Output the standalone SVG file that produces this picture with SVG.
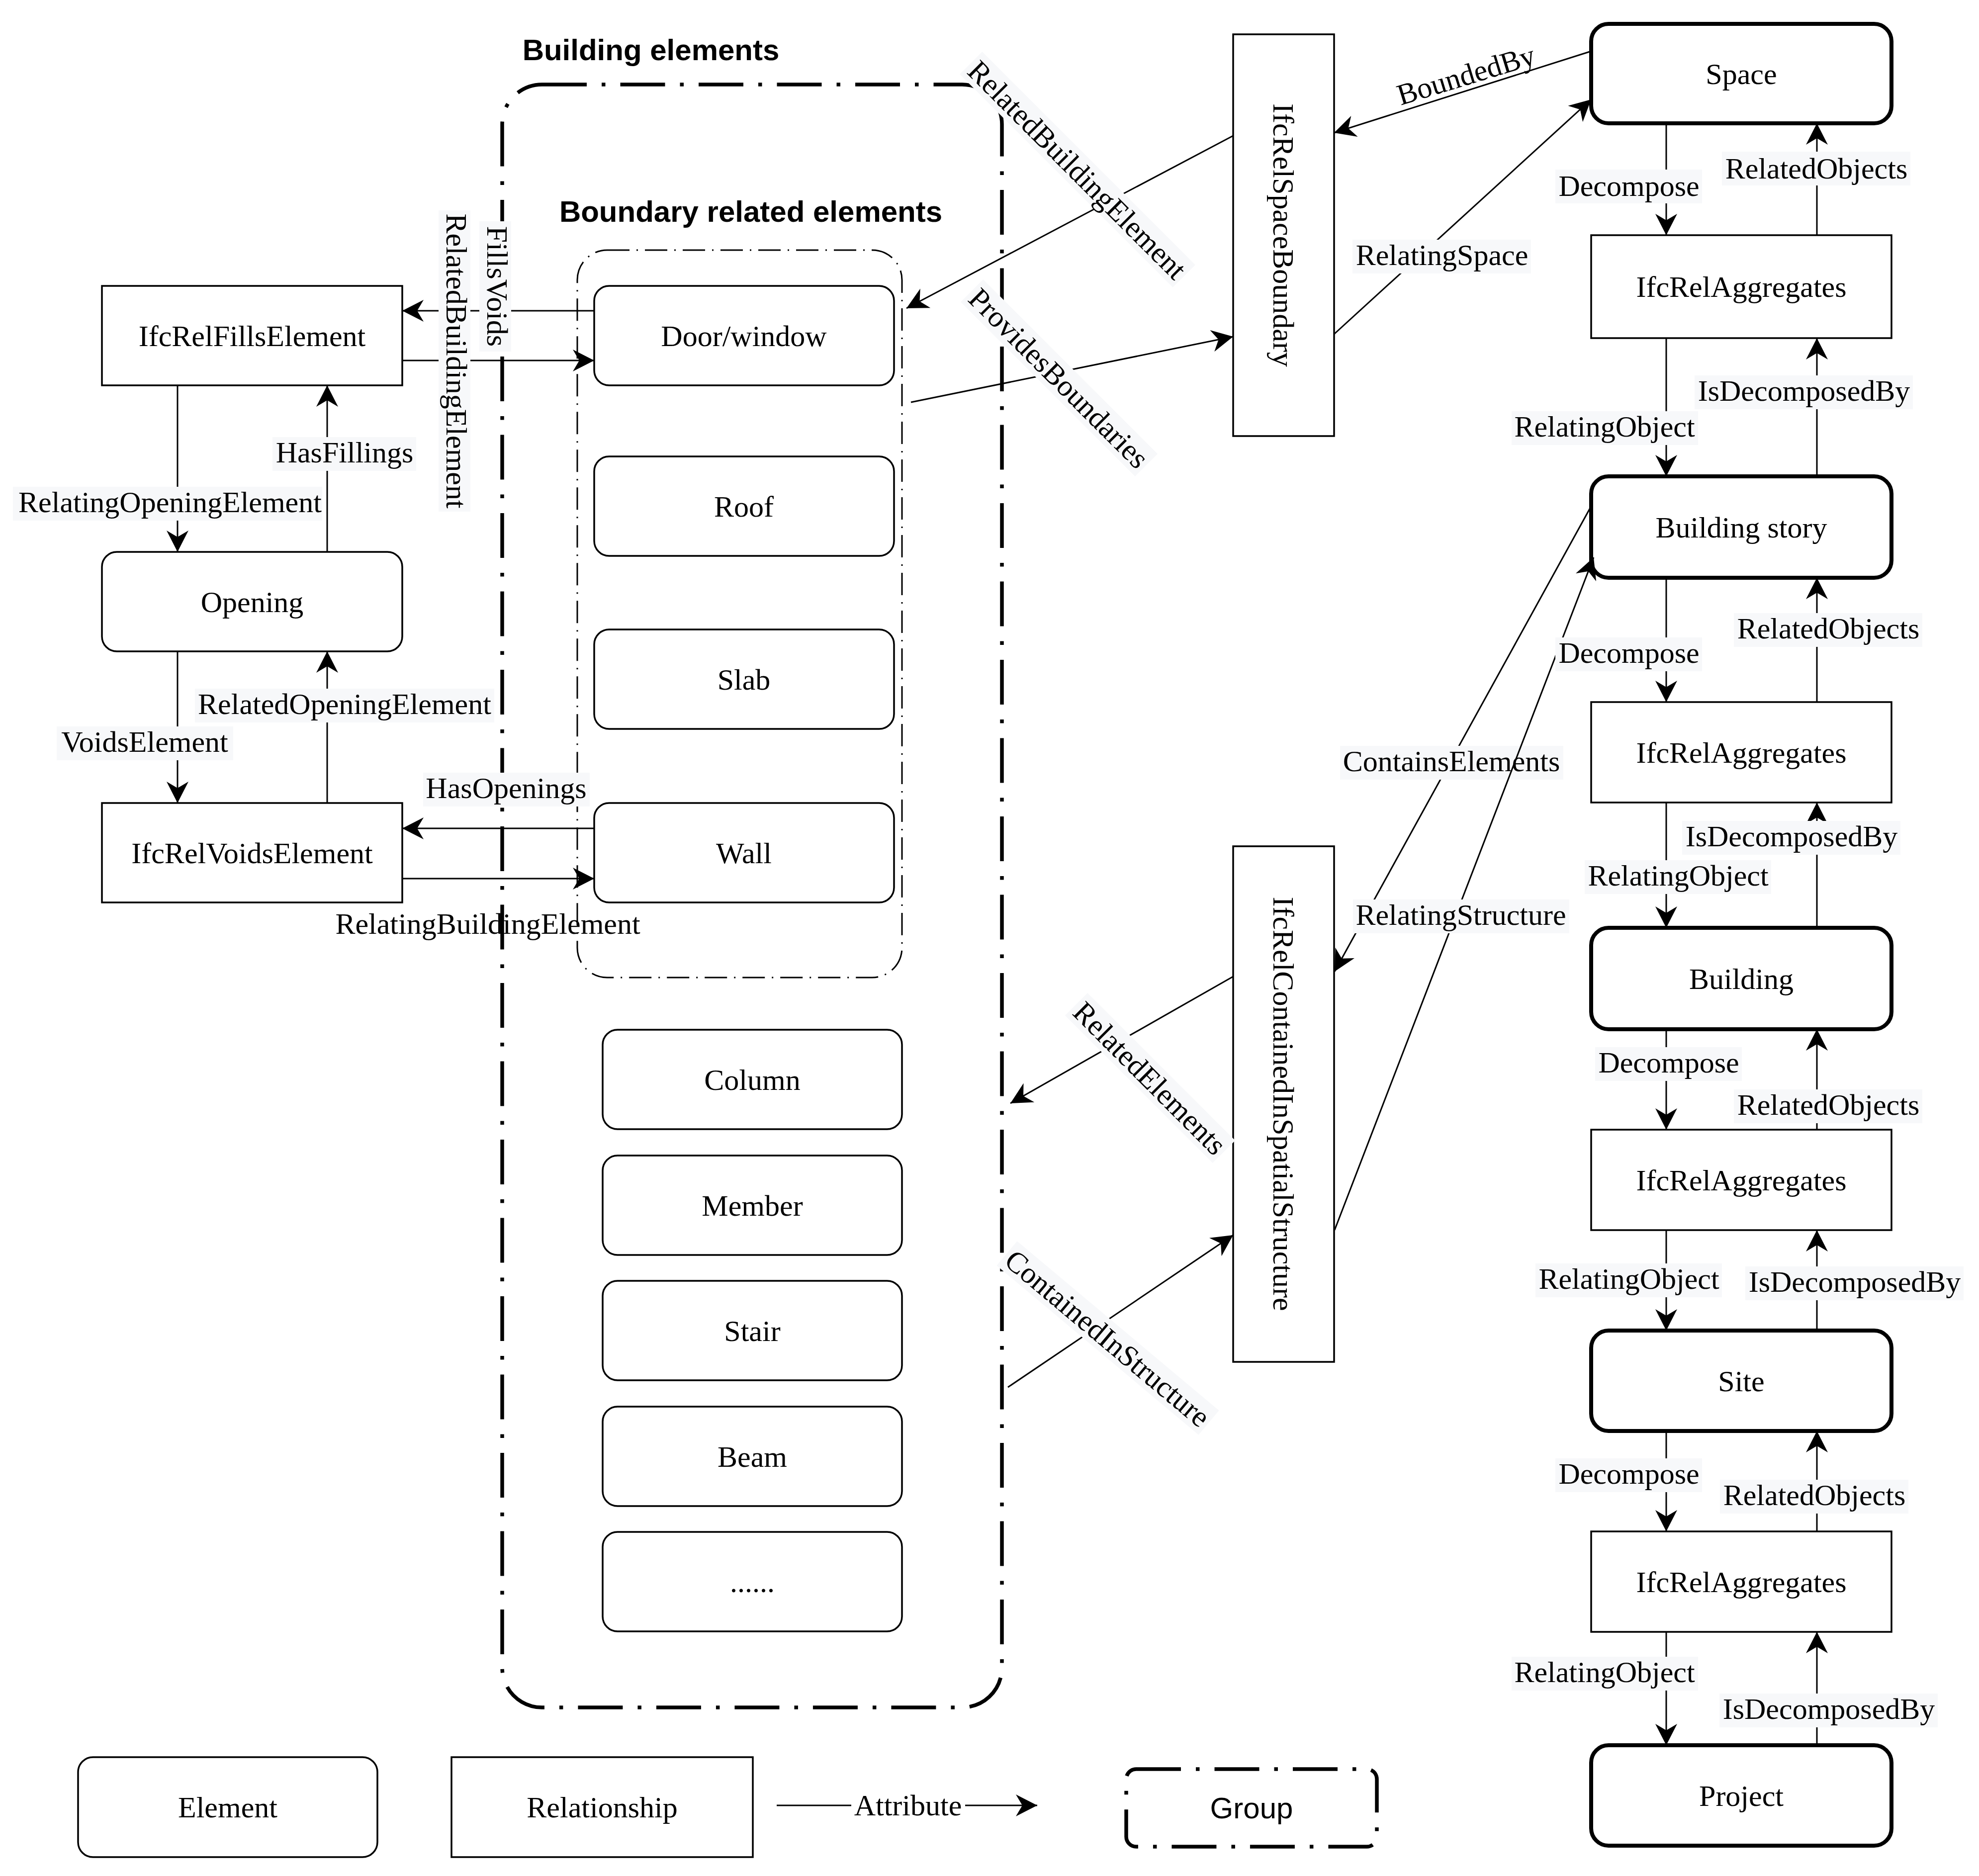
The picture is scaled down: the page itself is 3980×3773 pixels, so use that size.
<svg xmlns="http://www.w3.org/2000/svg" width="3980" height="3773" viewBox="0 0 3980 3773">
<defs>
<marker id="a" markerUnits="userSpaceOnUse" markerWidth="46" markerHeight="46" viewBox="0 0 46 46" refX="44" refY="23" orient="auto"><path d="M44,23 L1,1 L14,23 L1,45 Z" fill="#000"/></marker>
<style>
.n{fill:#fff;stroke:#000;stroke-width:3.5}
.b{fill:#fff;stroke:#000;stroke-width:8}
.t{font-family:"Liberation Serif","Times New Roman",serif;font-size:60px;text-anchor:middle;fill:#000}
.h{font-family:"Liberation Sans",Arial,sans-serif;font-size:60px;font-weight:bold;text-anchor:middle;fill:#000}
.g{font-family:"Liberation Sans",Arial,sans-serif;font-size:60px;text-anchor:middle;fill:#000}
.c{fill:none;stroke:#000;stroke-width:3;marker-end:url(#a)}
.lb{fill:#f7f8fa}
.wb{fill:#fff}
.og{fill:none;stroke:#000;stroke-width:7.5;stroke-dasharray:90 30 7.5 30}
.ig{fill:none;stroke:#000;stroke-width:3;stroke-dasharray:45 14 3 14}
</style>
</defs>
<rect width="3980" height="3773" fill="#fff"/>

<g id="group-building-elements">
<rect class="og" x="1010" y="170" width="1005" height="3264" rx="80"/>
<text class="h" x="1309" y="121">Building elements</text>
</g>
<g id="group-boundary-related">
<rect class="ig" x="1161" y="503" width="653" height="1463" rx="60"/>
<text class="h" x="1510" y="446">Boundary related elements</text>
</g>

<g id="n-fills"><rect class="n" x="205" y="575" width="604" height="200"/><text class="t" x="507" y="696">IfcRelFillsElement</text></g>
<g id="n-opening"><rect class="n" x="205" y="1110" width="604" height="200" rx="30"/><text class="t" x="507" y="1231">Opening</text></g>
<g id="n-voids"><rect class="n" x="205" y="1615" width="604" height="200"/><text class="t" x="507" y="1736">IfcRelVoidsElement</text></g>

<g id="n-door"><rect class="n" x="1195" y="575" width="603" height="200" rx="30"/><text class="t" x="1496" y="696">Door/window</text></g>
<g id="n-roof"><rect class="n" x="1195" y="918" width="603" height="200" rx="30"/><text class="t" x="1496" y="1039">Roof</text></g>
<g id="n-slab"><rect class="n" x="1195" y="1266" width="603" height="200" rx="30"/><text class="t" x="1496" y="1387">Slab</text></g>
<g id="n-wall"><rect class="n" x="1195" y="1615" width="603" height="200" rx="30"/><text class="t" x="1496" y="1736">Wall</text></g>

<g id="n-column"><rect class="n" x="1212" y="2071" width="602" height="200" rx="30"/><text class="t" x="1513" y="2192">Column</text></g>
<g id="n-member"><rect class="n" x="1212" y="2324" width="602" height="200" rx="30"/><text class="t" x="1513" y="2445">Member</text></g>
<g id="n-stair"><rect class="n" x="1212" y="2576" width="602" height="200" rx="30"/><text class="t" x="1513" y="2697">Stair</text></g>
<g id="n-beam"><rect class="n" x="1212" y="2829" width="602" height="200" rx="30"/><text class="t" x="1513" y="2950">Beam</text></g>
<g id="n-more"><rect class="n" x="1212" y="3081" width="602" height="200" rx="30"/><text class="t" x="1513" y="3202">......</text></g>

<g id="n-spaceboundary"><rect class="n" x="2480" y="69" width="203" height="808"/><text class="t" transform="translate(2582,473) rotate(90)" x="0" y="21">IfcRelSpaceBoundary</text></g>
<g id="n-contained"><rect class="n" x="2480" y="1702" width="203" height="1037"/><text class="t" transform="translate(2582,2220) rotate(90)" x="0" y="21">IfcRelContainedInSpatialStructure</text></g>

<g id="n-space"><rect class="b" x="3200" y="48" width="604" height="200" rx="35"/><text class="t" x="3502" y="169">Space</text></g>
<g id="n-agg1"><rect class="n" x="3200" y="473" width="604" height="207"/><text class="t" x="3502" y="597">IfcRelAggregates</text></g>
<g id="n-story"><rect class="b" x="3200" y="958" width="604" height="204" rx="35"/><text class="t" x="3502" y="1081">Building story</text></g>
<g id="n-agg2"><rect class="n" x="3200" y="1412" width="604" height="202"/><text class="t" x="3502" y="1534">IfcRelAggregates</text></g>
<g id="n-building"><rect class="b" x="3200" y="1866" width="604" height="204" rx="35"/><text class="t" x="3502" y="1989">Building</text></g>
<g id="n-agg3"><rect class="n" x="3200" y="2272" width="604" height="202"/><text class="t" x="3502" y="2394">IfcRelAggregates</text></g>
<g id="n-site"><rect class="b" x="3200" y="2676" width="604" height="202" rx="35"/><text class="t" x="3502" y="2798">Site</text></g>
<g id="n-agg4"><rect class="n" x="3200" y="3080" width="604" height="202"/><text class="t" x="3502" y="3202">IfcRelAggregates</text></g>
<g id="n-project"><rect class="b" x="3200" y="3510" width="604" height="202" rx="35"/><text class="t" x="3502" y="3632">Project</text></g>

<g id="legend">
<g id="legend-element"><rect class="n" x="157" y="3534" width="602" height="201" rx="30"/><text class="t" x="458" y="3655">Element</text></g>
<g id="legend-relationship"><rect class="n" x="908" y="3534" width="606" height="201"/><text class="t" x="1211" y="3655">Relationship</text></g>
<g id="legend-attribute"><line class="c" x1="1562" y1="3631" x2="2086" y2="3631"/><rect class="wb" x="1712" y="3599" width="229" height="66"/><text class="t" x="1826" y="3651">Attribute</text></g>
<g id="legend-group"><rect class="og" x="2265" y="3558" width="504" height="156" rx="20"/><text class="g" x="2517" y="3657">Group</text></g>
</g>

<g id="connectors">
<line class="c" x1="1195" y1="625" x2="809" y2="625"/>
<line class="c" x1="809" y1="725" x2="1195" y2="725"/>
<rect class="lb" transform="translate(980,576) rotate(90)" x="-131" y="-48" width="262" height="64"/>
<text class="t" transform="translate(980,576) rotate(90)" x="0" y="0">FillsVoids</text>
<rect class="lb" transform="translate(898,726) rotate(90)" x="-303" y="-48" width="606" height="64"/>
<text class="t" transform="translate(898,726) rotate(90)" x="0" y="0">RelatedBuildingElement</text>

<line class="c" x1="357" y1="775" x2="357" y2="1110"/>
<rect class="lb" x="26" y="979" width="622" height="68"/><text class="t" x="342" y="1030">RelatingOpeningElement</text>
<line class="c" x1="658" y1="1110" x2="658" y2="775"/>
<rect class="lb" x="548" y="879" width="289" height="68"/><text class="t" x="693" y="930">HasFillings</text>
<line class="c" x1="357" y1="1310" x2="357" y2="1615"/>
<rect class="lb" x="114" y="1461" width="355" height="68"/><text class="t" x="291" y="1512">VoidsElement</text>
<line class="c" x1="658" y1="1615" x2="658" y2="1310"/>
<rect class="lb" x="392" y="1385" width="602" height="68"/><text class="t" x="693" y="1436">RelatedOpeningElement</text>
<line class="c" x1="1195" y1="1666" x2="809" y2="1666"/>
<rect class="lb" x="851" y="1554" width="335" height="68"/><text class="t" x="1018" y="1605">HasOpenings</text>
<line class="c" x1="809" y1="1767" x2="1195" y2="1767"/>
<text class="t" x="981" y="1878">RelatingBuildingElement</text>

<line class="c" x1="3200" y1="103" x2="2683" y2="267"/>
<text class="t" transform="translate(2948,150) rotate(-17)" x="0" y="21">BoundedBy</text>
<line class="c" x1="2683" y1="672" x2="3200" y2="200"/>
<rect class="lb" x="2720" y="482" width="359" height="68"/><text class="t" x="2900" y="533">RelatingSpace</text>
<line class="c" x1="2480" y1="273" x2="1823" y2="620"/>
<rect class="lb" transform="translate(2167,341) rotate(45)" x="-303" y="-32" width="606" height="64"/>
<text class="t" transform="translate(2167,341) rotate(45)" x="0" y="21">RelatedBuildingElement</text>
<line class="c" x1="1832" y1="809" x2="2480" y2="677"/>
<rect class="lb" transform="translate(2130,760) rotate(45)" x="-248" y="-32" width="496" height="64"/>
<text class="t" transform="translate(2130,760) rotate(45)" x="0" y="21">ProvidesBoundaries</text>

<line class="c" x1="3200" y1="1018" x2="2684" y2="1954"/>
<rect class="lb" x="2695" y="1500" width="449" height="68"/><text class="t" x="2919" y="1551">ContainsElements</text>
<line class="c" x1="2684" y1="2474" x2="3205" y2="1121"/>
<rect class="lb" x="2721" y="1809" width="435" height="68"/><text class="t" x="2938" y="1860">RelatingStructure</text>
<line class="c" x1="2480" y1="1964" x2="2032" y2="2219"/>
<rect class="lb" transform="translate(2313,2168) rotate(45)" x="-210" y="-32" width="420" height="64"/>
<text class="t" transform="translate(2313,2168) rotate(45)" x="0" y="21">RelatedElements</text>
<line class="c" x1="2027" y1="2790" x2="2480" y2="2484"/>
<rect class="lb" transform="translate(2228,2691) rotate(40)" x="-265" y="-32" width="530" height="64"/>
<text class="t" transform="translate(2228,2691) rotate(40)" x="0" y="21">ContainedInStructure</text>

<line class="c" x1="3351" y1="248" x2="3351" y2="473"/>
<rect class="lb" x="3128" y="341" width="295" height="68"/><text class="t" x="3276" y="394">Decompose</text>
<line class="c" x1="3654" y1="473" x2="3654" y2="248"/>
<rect class="lb" x="3463" y="305" width="379" height="68"/><text class="t" x="3653" y="359">RelatedObjects</text>
<line class="c" x1="3351" y1="680" x2="3351" y2="958"/>
<rect class="lb" x="3040" y="827" width="375" height="68"/><text class="t" x="3227" y="878">RelatingObject</text>
<line class="c" x1="3654" y1="958" x2="3654" y2="680"/>
<rect class="lb" x="3408" y="755" width="439" height="68"/><text class="t" x="3628" y="806">IsDecomposedBy</text>

<line class="c" x1="3351" y1="1162" x2="3351" y2="1412"/>
<rect class="lb" x="3128" y="1282" width="295" height="68"/><text class="t" x="3276" y="1333">Decompose</text>
<line class="c" x1="3654" y1="1412" x2="3654" y2="1162"/>
<rect class="lb" x="3487" y="1233" width="379" height="68"/><text class="t" x="3677" y="1284">RelatedObjects</text>
<line class="c" x1="3351" y1="1614" x2="3351" y2="1866"/>
<rect class="lb" x="3187" y="1730" width="375" height="68"/><text class="t" x="3375" y="1781">RelatingObject</text>
<line class="c" x1="3654" y1="1866" x2="3654" y2="1614"/>
<rect class="lb" x="3383" y="1651" width="439" height="68"/><text class="t" x="3603" y="1702">IsDecomposedBy</text>

<line class="c" x1="3351" y1="2070" x2="3351" y2="2272"/>
<rect class="lb" x="3208" y="2106" width="295" height="68"/><text class="t" x="3356" y="2157">Decompose</text>
<line class="c" x1="3654" y1="2272" x2="3654" y2="2070"/>
<rect class="lb" x="3487" y="2191" width="379" height="68"/><text class="t" x="3677" y="2242">RelatedObjects</text>
<line class="c" x1="3351" y1="2474" x2="3351" y2="2676"/>
<rect class="lb" x="3088" y="2541" width="375" height="68"/><text class="t" x="3276" y="2592">RelatingObject</text>
<line class="c" x1="3654" y1="2676" x2="3654" y2="2474"/>
<rect class="lb" x="3510" y="2547" width="439" height="68"/><text class="t" x="3730" y="2598">IsDecomposedBy</text>

<line class="c" x1="3351" y1="2878" x2="3351" y2="3080"/>
<rect class="lb" x="3128" y="2933" width="295" height="68"/><text class="t" x="3276" y="2984">Decompose</text>
<line class="c" x1="3654" y1="3080" x2="3654" y2="2878"/>
<rect class="lb" x="3459" y="2976" width="379" height="68"/><text class="t" x="3649" y="3027">RelatedObjects</text>
<line class="c" x1="3351" y1="3282" x2="3351" y2="3510"/>
<rect class="lb" x="3040" y="3332" width="375" height="68"/><text class="t" x="3227" y="3383">RelatingObject</text>
<line class="c" x1="3654" y1="3510" x2="3654" y2="3282"/>
<rect class="lb" x="3458" y="3406" width="439" height="68"/><text class="t" x="3678" y="3457">IsDecomposedBy</text>
</g>
</svg>
